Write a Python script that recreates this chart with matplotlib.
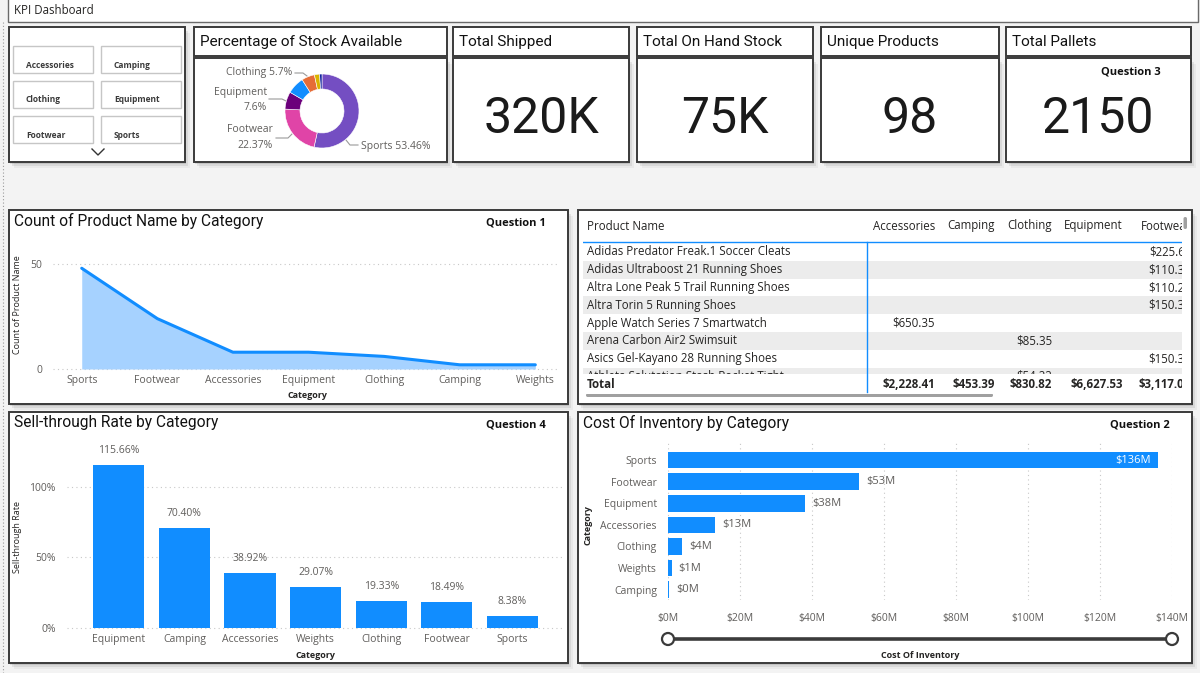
import matplotlib.pyplot as plt
from matplotlib.patches import Rectangle, FancyBboxPatch, Circle

plt.rcParams['font.family'] = ['Open Sans', 'DejaVu Sans']

# ---- data ----
slicer_items = ["Accessories", "Camping", "Clothing", "Equipment", "Footwear", "Sports"]

donut_cats = ["Sports", "Footwear", "Equipment", "Accessories", "Clothing", "Weights", "Camping"]
donut_pct = [53.46, 22.37, 7.6, 7.58, 5.7, 2.25, 1.04]
donut_colors = ["#744EC2", "#E044A7", "#6B007B", "#118DFF", "#E66C37", "#D9B300", "#12239E"]

kpi_titles = ["Total Shipped", "Total On Hand Stock", "Unique Products", "Total Pallets"]
kpi_values = ["320K", "75K", "98", "2150"]

count_cats = ["Sports", "Footwear", "Accessories", "Equipment", "Clothing", "Camping", "Weights"]
count_vals = [48, 24, 8, 8, 6, 2, 2]

str_cats = ["Equipment", "Camping", "Accessories", "Weights", "Clothing", "Footwear", "Sports"]
str_vals = [115.66, 70.40, 38.92, 29.07, 19.33, 18.49, 8.38]

cost_cats = ["Sports", "Footwear", "Equipment", "Accessories", "Clothing", "Weights", "Camping"]
cost_vals = [136, 53, 38, 13, 4, 1, 0.3]

table_cols = ["Accessories", "Camping", "Clothing", "Equipment", "Footwear"]
table_products = ["Adidas Predator Freak.1 Soccer Cleats", "Adidas Ultraboost 21 Running Shoes",
                  "Altra Lone Peak 5 Trail Running Shoes", "Altra Torin 5 Running Shoes",
                  "Apple Watch Series 7 Smartwatch", "Arena Carbon Air2 Swimsuit",
                  "Asics Gel-Kayano 28 Running Shoes", "Athleta Salutation Stash Pocket Tight"]
table_col_of_row = [4, 4, 4, 4, 0, 2, 4, 2]
table_price = ["$225.65", "$110.35", "$110.25", "$150.35", "$650.35", "$85.35", "$150.35", "$54.22"]
table_totals = ["$2,228.41", "$453.39", "$830.82", "$6,627.53", "$3,117.05"]

W, H = 1200, 673
BLUE = "#118DFF"
GREY = "#605E5C"
DARK = "#252423"

fig = plt.figure(figsize=(12, 6.73), dpi=100)
fig.patch.set_facecolor("#f3f3f3")
bg = fig.add_axes([0, 0, 1, 1])
bg.set_xlim(0, W)
bg.set_ylim(H, 0)
bg.axis("off")


def add_ax(x0, y0, x1, y1):
    a = fig.add_axes([x0 / W, 1 - y1 / H, (x1 - x0) / W, (y1 - y0) / H])
    a.set_facecolor("none")
    return a


def panel(x0, y0, x1, y1, lw=1.4, ec="#3a3a3a", shadow=True):
    if shadow:
        for i, al in enumerate([0.10, 0.07, 0.04]):
            d = 2 + i * 2
            bg.add_patch(Rectangle((x0 + d - 1, y0 + d), x1 - x0, y1 - y0,
                                   fc="#000000", ec="none", alpha=al))
    bg.add_patch(Rectangle((x0, y0), x1 - x0, y1 - y0, fc="white", ec=ec, lw=lw))


# left dotted page edge
bg.plot([3, 3], [22, H], ls=(0, (1, 2)), color="#9a9a9a", lw=0.8)

# header
bg.add_patch(Rectangle((8, -2), 1190, 24, fc="white", ec="#6a6a6a", lw=1.0))
bg.text(14, 11, "KPI Dashboard", fontsize=8.3, color=DARK, va="center")

# slicer
panel(9, 27, 185, 162)
for i, name in enumerate(slicer_items):
    cx = 13 if i % 2 == 0 else 101
    cy = [46, 81, 116][i // 2]
    bg.add_patch(Rectangle((cx, cy), 80, 27, fc="white", ec="#c6c6c6", lw=1.0))
    bg.text(cx + 13, cy + 19, name, fontsize=6, color="#3b3b3b", va="center", fontweight="bold")
bg.plot([92, 98, 104], [149, 155, 149], color="#333333", lw=1.0)

# donut title + panel
panel(194, 27, 447, 56, shadow=False)
bg.text(200, 42, "Percentage of Stock Available", fontsize=11, color="#111111", va="center",
        family=["Roboto", "DejaVu Sans"])
panel(194, 58, 447, 162)

dax = add_ax(285, 74, 359, 148)
dax.pie(donut_pct, colors=donut_colors, startangle=90, counterclock=False, radius=1,
        wedgeprops=dict(width=15 / 37, edgecolor="white", linewidth=0.4))
dax.set_xlim(-1, 1)
dax.set_ylim(-1, 1)
dax.set_aspect("auto")

lab = dict(fontsize=7.5, color=GREY, ha="right", va="center")
bg.text(292, 73, f"{donut_cats[4]} {donut_pct[4]}%", **lab)
bg.text(267, 92, donut_cats[2], **lab)
bg.text(267, 107, f"{donut_pct[2]}%", **lab)
bg.text(273, 130, donut_cats[1], **lab)
bg.text(273, 145, f"{donut_pct[1]}%", **lab)
bg.text(361, 146, f"{donut_cats[0]} {donut_pct[0]}%", fontsize=7.5, color=GREY, ha="left", va="center")
for xs, ys in [([295, 303, 307], [73, 73, 76]),
               ([269, 282, 286], [99, 99, 101]),
               ([276, 288, 292], [138, 138, 134]),
               ([346, 350, 358], [140, 145, 145])]:
    bg.plot(xs, ys, color="#9a9a9a", lw=0.8)

# KPI cards
kpi_x = [(453, 629), (637, 813), (821, 999), (1006, 1191)]
for (x0, x1), t, v in zip(kpi_x, kpi_titles, kpi_values):
    panel(x0, 27, x1, 56, shadow=False)
    bg.text(x0 + 6, 42, t, fontsize=11, color="#111111", va="center", family=["Roboto", "DejaVu Sans"])
    panel(x0, 58, x1, 162)
    bg.text((x0 + x1) / 2, 119, v, fontsize=36, color="#1a1a1a", ha="center", va="center",
            family=["Roboto", "DejaVu Sans"])
bg.text(1131, 72, "Question 3", fontsize=8, fontweight="bold", color="#111111", ha="center", va="center")

# middle + bottom panels
panel(9, 210, 568, 404)
panel(578, 210, 1192, 404)
panel(9, 412, 568, 663)
panel(578, 412, 1192, 663)

title_kw = dict(fontsize=11.2, color="#111111", va="center", family=["Roboto", "DejaVu Sans"])
q_kw = dict(fontsize=8, fontweight="bold", color="#111111", ha="center", va="center")
small_kw = dict(fontsize=6.5, color=DARK, ha="center", va="center")

# ---- Count of Product Name by Category ----
bg.text(14, 221, "Count of Product Name by Category", **title_kw)
bg.text(516, 223, "Question 1", **q_kw)
ax1 = add_ax(53, 250, 558, 372)
xs = range(len(count_cats))
ax1.fill_between(xs, count_vals, color="#A6D2FF", lw=0)
ax1.plot(xs, count_vals, color=BLUE, lw=2.2, solid_capstyle="round")
ax1.set_xlim(-0.38, 6.30)
ax1.set_ylim(-1.43, 56.7)
ax1.set_yticks([0, 50])
ax1.set_xticks(list(xs))
ax1.set_xticklabels(count_cats)
ax1.yaxis.grid(True, ls=(0, (1, 3)), color="#c8c8c8", lw=0.8)
ax1.set_axisbelow(True)
for s in ax1.spines.values():
    s.set_visible(False)
ax1.tick_params(length=0, labelsize=7.5, labelcolor=GREY)
ax1.tick_params(axis="y", pad=8)
ax1.tick_params(axis="x", pad=2)
bg.text(18, 305, "Count of Product Name", rotation=90, **small_kw)
bg.text(308, 396, "Category", fontweight="bold", **small_kw)

# ---- Table ----
tax = add_ax(583, 213, 1182, 394)
tax.set_xlim(583, 1182)
tax.set_ylim(394, 213)
tax.axis("off")
col_right = [935, 995, 1052, 1123, 1191]
tkw = dict(fontsize=8.3, color=DARK, va="center", clip_on=True)
tax.text(587, 226, "Product Name", **tkw)
for c, r in zip(table_cols, col_right):
    tax.text(r, 226, c, ha="right", **tkw)
row_h = 17.8
for i, (p, ci, val) in enumerate(zip(table_products, table_col_of_row, table_price)):
    y0 = 243 + i * row_h
    if i % 2 == 1:
        tax.add_patch(Rectangle((583, y0), 600, row_h, fc="#ececec", ec="none", clip_on=True))
    tax.text(587, y0 + row_h / 2, p, **tkw)
    tax.text(col_right[ci], y0 + row_h / 2, val, ha="right", **tkw)
tax.add_patch(Rectangle((583, 374), 600, 22, fc="white", ec="none", zorder=3))
tax.text(587, 384, "Total", fontweight="bold", zorder=4, **tkw)
for t, r in zip(table_totals, col_right):
    tax.text(r, 384, t, ha="right", fontweight="bold", zorder=4, **tkw)
tax.plot([583, 1182], [242, 242], color=BLUE, lw=1.0, zorder=5)
tax.plot([867, 867], [242, 392], color=BLUE, lw=1.0, zorder=5)
bg.add_patch(FancyBboxPatch((586, 393.5), 407, 3.5, boxstyle="round,pad=0,rounding_size=1.7",
                            fc="#a0a0a0", ec="none", zorder=6))
bg.add_patch(FancyBboxPatch((1183.5, 217), 3.5, 12, boxstyle="round,pad=0,rounding_size=1.7",
                            fc="#a0a0a0", ec="none", zorder=6))

# ---- Sell-through Rate by Category ----
bg.text(14, 423, "Sell-through Rate by Category", **title_kw)
bg.text(516, 425, "Question 4", **q_kw)
ax2 = add_ax(67, 440, 563, 630)
xs2 = range(len(str_cats))
bars = ax2.bar(xs2, str_vals, width=0.78, color=BLUE)
ax2.set_xlim(-0.79, 6.77)
ax2.set_ylim(-1.4, 133)
ax2.set_yticks([0, 50, 100])
ax2.set_yticklabels(["0%", "50%", "100%"])
ax2.set_xticks(list(xs2))
ax2.set_xticklabels(str_cats)
ax2.yaxis.grid(True, ls=(0, (1, 3)), color="#c8c8c8", lw=0.8)
ax2.set_axisbelow(True)
for s in ax2.spines.values():
    s.set_visible(False)
ax2.tick_params(length=0, labelsize=7.5, labelcolor=GREY)
ax2.tick_params(axis="y", pad=8)
ax2.tick_params(axis="x", pad=3)
for b, v in zip(bars, str_vals):
    ax2.annotate(f"{v:.2f}%", (b.get_x() + b.get_width() / 2, v), xytext=(0, 9),
                 textcoords="offset pixels", ha="center", va="bottom", fontsize=7.5, color=GREY)
bg.text(18, 537, "Sell-through Rate", rotation=90, **small_kw)
bg.text(316, 655, "Category", fontweight="bold", **small_kw)

# ---- Cost Of Inventory by Category ----
bg.text(583, 423, "Cost Of Inventory by Category", **title_kw)
bg.text(1140, 425, "Question 2", **q_kw)
ax3 = add_ax(668, 443, 1172, 600)
ys = range(len(cost_cats))
ax3.barh(ys, cost_vals, height=0.77, color=BLUE)
ax3.set_xlim(0, 140)
ax3.set_ylim(6.48, -0.79)
ax3.set_xticks(range(0, 141, 20))
ax3.set_xticklabels([f"${t}M" for t in range(0, 141, 20)])
ax3.set_yticks(list(ys))
ax3.set_yticklabels(cost_cats)
ax3.xaxis.grid(True, ls=(0, (1, 3)), color="#c8c8c8", lw=0.8)
ax3.set_axisbelow(True)
for s in ax3.spines.values():
    s.set_visible(False)
ax3.tick_params(length=0, labelsize=7.5, labelcolor=GREY)
ax3.tick_params(axis="y", pad=8)
ax3.tick_params(axis="x", pad=9)
for i, v in enumerate(cost_vals):
    if v > 100:
        ax3.annotate(f"${v:.0f}M", (v, i), xytext=(-7, 0), textcoords="offset pixels",
                     ha="right", va="center", fontsize=8, color="white")
    else:
        ax3.annotate(f"${v:.0f}M", (v, i), xytext=(7, 0), textcoords="offset pixels",
                     ha="left", va="center", fontsize=8, color=GREY)
# range slider
bg.plot([668, 1172], [639, 639], color="#3b3b3b", lw=2.6, solid_capstyle="butt")
for cx in (668, 1172):
    bg.add_patch(Circle((cx, 639), 6, fc="white", ec="#3b3b3b", lw=1.6, zorder=5))
bg.text(588, 525, "Category", rotation=90, fontweight="bold", **small_kw)
bg.text(920, 656, "Cost Of Inventory", fontweight="bold", **small_kw)

fig.savefig("out.png", dpi=100, facecolor=fig.get_facecolor())
